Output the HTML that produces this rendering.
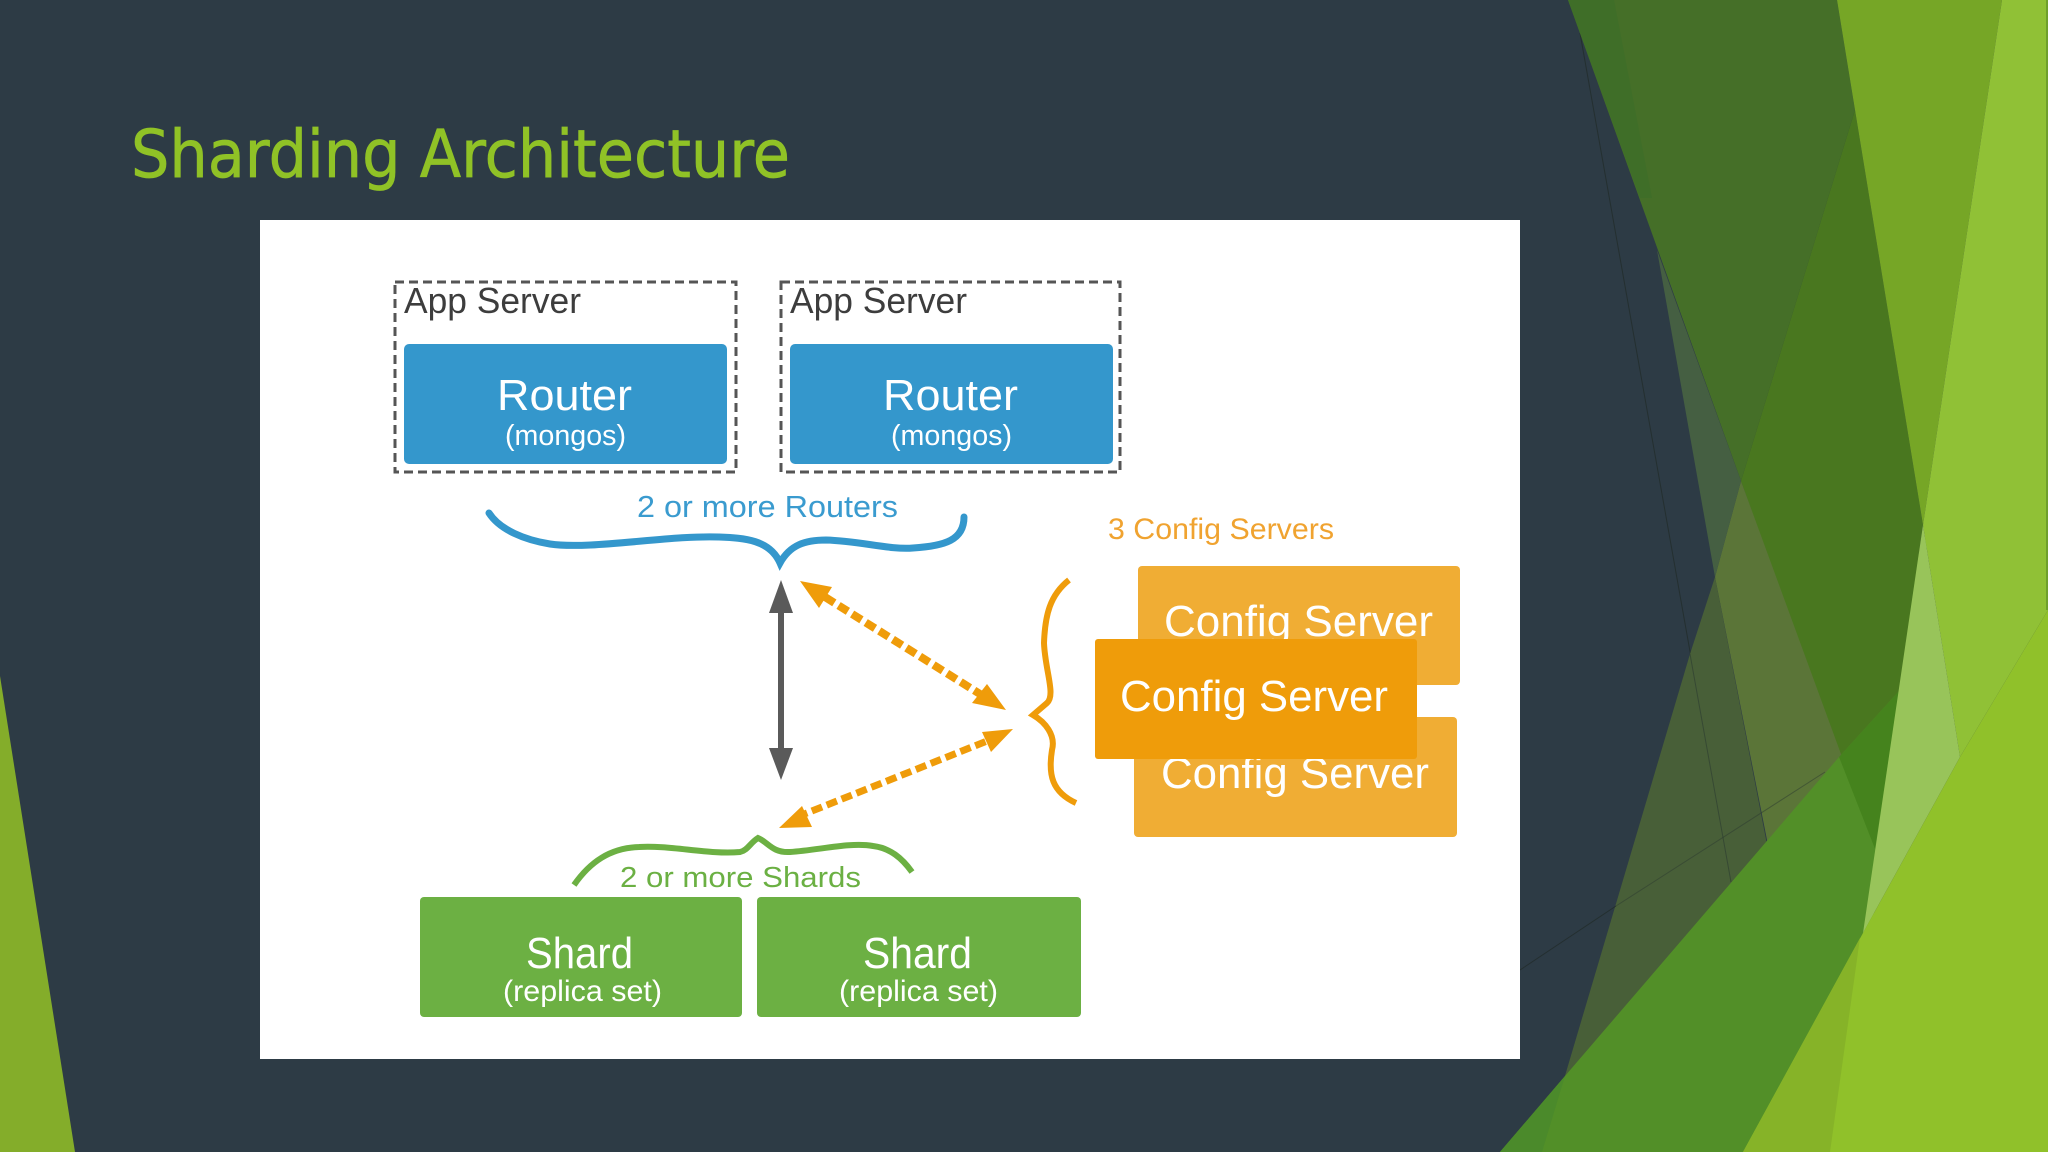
<!DOCTYPE html>
<html><head><meta charset="utf-8"><style>
html,body{margin:0;padding:0;background:#2d3b45}
svg{display:block}
text{font-family:"Liberation Sans",sans-serif}
</style></head><body>
<svg width="2048" height="1152" viewBox="0 0 2048 1152" xmlns="http://www.w3.org/2000/svg">
<rect width="2048" height="1152" fill="#2d3b45"/>
<!-- left green -->
<polygon points="0,676 75,1152 0,1152" fill="#84ad2a"/>
<!-- thin lines behind and over facets -->
<line x1="1580" y1="33" x2="1731" y2="882" stroke="#222c2a" stroke-width="1" stroke-opacity=".75"/>
<!-- right facets -->
<polygon points="1839,757 1930,525 1870,940 1743,1152 1500,1152" fill="#528f28"/>
<polygon points="1568,0 1837,0 1855,110 1741,481" fill="#456f28"/>
<polygon points="1568,0 1614,0 1652,198 1640,198" fill="#3f6e28"/>
<polygon points="1855,110 1923,525 1899,691 1839,757 1741,481" fill="#49771f"/>
<polygon points="1837,0 2002,0 1923,525 1855,110" fill="#76a626"/>
<polygon points="2002,0 2048,0 2048,610 1960,757 1923,525" fill="#90c136"/>
<polygon points="1741,481 1845,765 1770,855 1715,577" fill="#5b7538"/>
<polygon points="1657,250 1741,481 1715,577" fill="#455f42"/>
<polygon points="1690,654 1715,577 1770,860 1559,1096" fill="#485f38"/>
<polygon points="1839,757 1899,691 1875,849" fill="#45831d"/>
<polygon points="1839,757 1875,849 1863,933 1743,1152 1500,1152 1565,1076" fill="#528f28"/>
<polygon points="1500,1152 1565,1076 1542,1152" fill="#4b8a2b"/>
<polygon points="1923,525 1960,757 1863,933" fill="#98c45a"/>
<polygon points="2048,610 2048,1152 1743,1152 1863,933 1960,757" fill="#90c12a"/>
<polygon points="1860,938 1830,1152 1743,1152" fill="#86b328"/>
<line x1="1690" y1="654" x2="1731" y2="882" stroke="#2c3a30" stroke-width="1" stroke-opacity=".6"/>
<line x1="1520" y1="970" x2="1616" y2="906" stroke="#222c2a" stroke-width="1" stroke-opacity=".8"/>
<line x1="1616" y1="906" x2="1825" y2="772" stroke="#2c3a30" stroke-width="1" stroke-opacity=".5"/>
<rect x="2046" y="0" width="2" height="610" fill="#6fa02c"/>
<!-- title -->
<text x="131" y="177" font-size="66" fill="#90c226" stroke="#90c226" stroke-width=".7" textLength="659" lengthAdjust="spacingAndGlyphs" style="font-family:'DejaVu Sans',sans-serif">Sharding Architecture</text>
<!-- white panel -->
<rect x="260" y="220" width="1260" height="839" fill="#fff"/>
<!-- app servers -->
<rect x="395" y="282" width="341" height="190" fill="none" stroke="#555" stroke-width="3" stroke-dasharray="9 5"/>
<rect x="781" y="282" width="339" height="190" fill="none" stroke="#555" stroke-width="3" stroke-dasharray="9 5"/>
<text x="404" y="313" font-size="36" fill="#3d3d3d" textLength="177" lengthAdjust="spacingAndGlyphs">App Server</text>
<text x="790" y="313" font-size="36" fill="#3d3d3d" textLength="177" lengthAdjust="spacingAndGlyphs">App Server</text>
<rect x="404" y="344" width="323" height="120" rx="5" fill="#3497cc"/>
<rect x="790" y="344" width="323" height="120" rx="5" fill="#3497cc"/>
<text x="497" y="410" font-size="44" fill="#fff" textLength="135" lengthAdjust="spacingAndGlyphs">Router</text>
<text x="883" y="410" font-size="44" fill="#fff" textLength="135" lengthAdjust="spacingAndGlyphs">Router</text>
<text x="505" y="445" font-size="29" fill="#fff" textLength="121" lengthAdjust="spacingAndGlyphs">(mongos)</text>
<text x="891" y="445" font-size="29" fill="#fff" textLength="121" lengthAdjust="spacingAndGlyphs">(mongos)</text>
<text x="637" y="517" font-size="31" fill="#3a9bcf" textLength="261" lengthAdjust="spacingAndGlyphs">2 or more Routers</text>
<path d="M489,513 C500,530 525,540 550,544 C590,550 670,535 719,537 C745,538 770,540 780,563 C790,545 805,540 826,540 C860,541 890,550 913,548 C945,546 964,540 964,517" fill="none" stroke="#3497cc" stroke-width="7" stroke-linecap="round"/>
<!-- config -->
<text x="1108" y="539" font-size="30" fill="#f0a330" textLength="226" lengthAdjust="spacingAndGlyphs">3 Config Servers</text>
<rect x="1138" y="566" width="322" height="119" rx="4" fill="#f0ad34"/>
<rect x="1134" y="717" width="323" height="120" rx="4" fill="#f0ad34"/>
<text x="1164" y="636" font-size="44" fill="#fff" textLength="269" lengthAdjust="spacingAndGlyphs">Config Server</text>
<text x="1161" y="788" font-size="44" fill="#fff" textLength="268" lengthAdjust="spacingAndGlyphs">Config Server</text>
<rect x="1095" y="639" width="322" height="120" rx="3" fill="#ef9c0a"/>
<text x="1120" y="711" font-size="44" fill="#fff" textLength="268" lengthAdjust="spacingAndGlyphs">Config Server</text>
<path d="M1069,580 C1050,595 1045,615 1044,643 C1045,670 1056,695 1047,703 L1033,715 C1045,722 1056,735 1052,750 C1048,775 1052,792 1076,803" fill="none" stroke="#ef9c0a" stroke-width="6"/>
<!-- gray arrow -->
<rect x="778" y="610" width="6" height="140" fill="#5a5a5a"/>
<polygon points="781,580 793,613 769,613" fill="#5a5a5a"/>
<polygon points="781,780 793,748 769,748" fill="#5a5a5a"/>
<!-- orange arrows -->
<line x1="825" y1="597" x2="980" y2="694" stroke="#ef9c0a" stroke-width="8" stroke-dasharray="11 5"/>
<polygon points="800,581 832,587 819,608" fill="#ef9c0a"/>
<polygon points="1006,710 972,703 987,684" fill="#ef9c0a"/>
<line x1="797" y1="817" x2="987" y2="741" stroke="#ef9c0a" stroke-width="7" stroke-dasharray="11 5"/>
<polygon points="1013,729 982,732 991,752" fill="#ef9c0a"/>
<polygon points="779,828 812,827 802,806" fill="#ef9c0a"/>
<!-- shards -->
<path d="M574,885 C590,862 610,848 639,847 C670,845 710,855 740,852 C748,850 750,843 758,838 C768,842 772,853 790,852 C820,850 850,842 873,846 C890,848 902,858 912,872" fill="none" stroke="#6cb043" stroke-width="6"/>
<text x="620" y="887" font-size="29" fill="#6bb043" textLength="241" lengthAdjust="spacingAndGlyphs">2 or more Shards</text>
<rect x="420" y="897" width="322" height="120" rx="4" fill="#6cb043"/>
<rect x="757" y="897" width="324" height="120" rx="4" fill="#6cb043"/>
<text x="526" y="968" font-size="44" fill="#fff" textLength="107" lengthAdjust="spacingAndGlyphs">Shard</text>
<text x="863" y="968" font-size="44" fill="#fff" textLength="109" lengthAdjust="spacingAndGlyphs">Shard</text>
<text x="503" y="1001" font-size="30" fill="#fff" textLength="159" lengthAdjust="spacingAndGlyphs">(replica set)</text>
<text x="839" y="1001" font-size="30" fill="#fff" textLength="159" lengthAdjust="spacingAndGlyphs">(replica set)</text>
</svg>
</body></html>
